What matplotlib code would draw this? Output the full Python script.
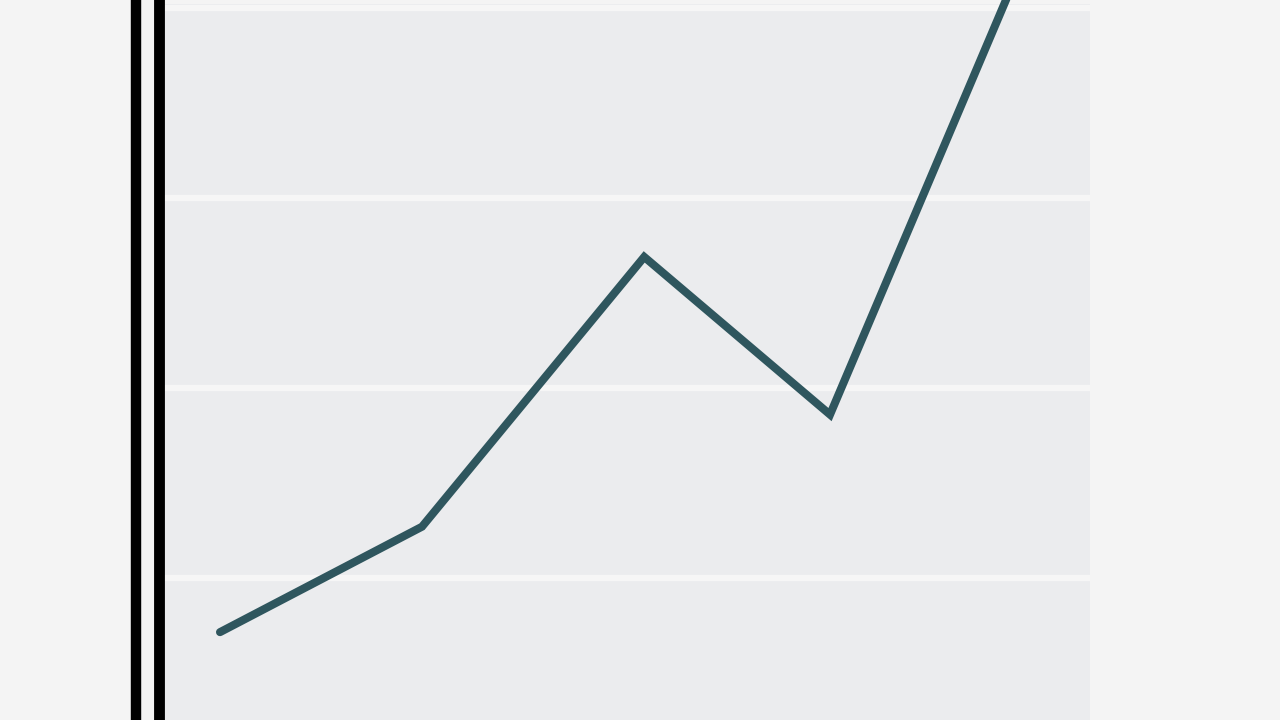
import matplotlib
matplotlib.use("Agg")
import matplotlib.pyplot as plt
from matplotlib.lines import Line2D

# Data
x_values = [1.0, 2.0, 3.10, 4.02, 4.97]
y_values = [7.15, 12.7, 26.9, 18.6, 42.4]
grid_levels = [10, 20, 30, 40]

fig = plt.figure(figsize=(12.8, 7.2), dpi=100)
fig.patch.set_facecolor("#f4f4f4")

# Axes runs from just below the top edge to past the bottom (cropped view)
top_px, bottom_px = 4, 740
ax = fig.add_axes([158.5 / 1280, (720 - bottom_px) / 720,
                   (1090 - 158.5) / 1280, (bottom_px - top_px) / 720])
ax.set_facecolor("#ebecee")

ax.set_xlim(0.6955, 5.307)
ax.set_ylim(10 - (bottom_px - 578) / 19, 10 + (578 - top_px) / 19)

ax.set_yticks(grid_levels)
ax.set_xticks([])
ax.yaxis.grid(True, color="#f6f6f6", linewidth=4.5)
ax.set_axisbelow(True)
ax.tick_params(left=False, labelleft=False, bottom=False, labelbottom=False)

for side in ["top", "right", "bottom"]:
    ax.spines[side].set_visible(False)
ax.spines["left"].set_color("black")
ax.spines["left"].set_linewidth(7.8)
ax.spines["left"].set_bounds(ax.get_ylim()[0], 60)

ax.plot(x_values, y_values, color="#2f565e", linewidth=5.8,
        solid_capstyle="round", solid_joinstyle="miter", clip_on=False)

# Second decorative vertical rule to the left of the axes
fig.add_artist(Line2D([136 / 1280, 136 / 1280], [0, 1], transform=fig.transFigure,
                      color="black", linewidth=7.5))

fig.savefig("out.png", dpi=100, facecolor=fig.get_facecolor())
